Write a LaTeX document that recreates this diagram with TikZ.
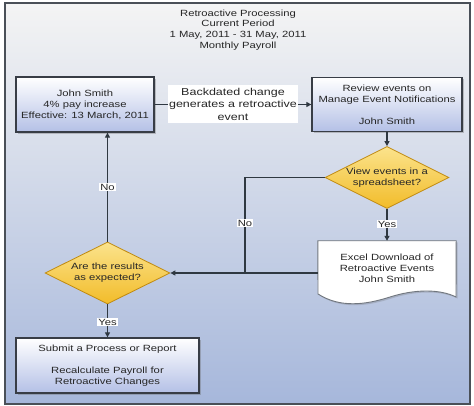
\documentclass[tikz,border=0pt]{standalone}
\usepackage{fontspec}
\setmainfont{Liberation Sans}[FakeStretch=1.25]
\usetikzlibrary{arrows.meta,shapes.geometric,shadows}
\definecolor{framec}{HTML}{4A5058}
\definecolor{bgtop}{HTML}{F4F4F4}
\definecolor{bgmid}{HTML}{CDD5E7}
\definecolor{bgbot}{HTML}{A6B7DB}
\definecolor{boxbot}{HTML}{B4C0E6}
\definecolor{boxline}{HTML}{383D46}
\definecolor{dtop}{HTML}{FBE38C}
\definecolor{dmid}{HTML}{F7CB47}
\definecolor{dbot}{HTML}{F2BC2A}
\definecolor{dline}{HTML}{C08A10}
\definecolor{conn}{HTML}{2F3841}
\definecolor{docline}{HTML}{70767E}
\tikzset{
  txt/.style={font=\fontsize{9}{11}\selectfont, align=center, text=black!85},
  procbox/.style={txt, draw=boxline, line width=1.3pt, top color=white, bottom color=boxbot,
    inner sep=0pt, drop shadow={shadow xshift=2pt, shadow yshift=-2pt, opacity=.35, fill=black!60}},
  decision/.style={txt, shape=diamond, draw=dline, line width=0.8pt, aspect=2, inner sep=0pt,
    top color=dtop, middle color=dmid, bottom color=dbot},
  conline/.style={draw=conn, line width=1.2pt},
  arr/.style={conline, -{Triangle[length=5pt,width=5pt]}},
  tag/.style={txt, fill=white, inner sep=1pt},
}
\begin{document}
\begin{tikzpicture}[x=1pt, y=-1pt]
\useasboundingbox (0,0) rectangle (474,406);
% background frame
\path[draw=framec, line width=1.5pt, top color=bgtop, middle color=bgmid, bottom color=bgbot]
  (5,3) rectangle (470,404);
% title
\node[txt, font=\fontsize{9}{10.7}\selectfont] (title) at (238,30)
  {Retroactive Processing\\Current Period\\1 May, 2011 - 31 May, 2011\\Monthly Payroll};
% boxes
\node[procbox, minimum width=138pt, minimum height=55pt] (b1) at (85,104.5)
  {John Smith\\4\% pay increase\\Effective: 13 March, 2011};
\node[procbox, minimum width=150pt, minimum height=54pt] (b2) at (387,104.5)
  {Review events on\\Manage Event Notifications\\[11pt]John Smith};
\node[decision, minimum width=124pt, minimum height=62pt] (d1) at (387,177.5)
  {View events in a\\spreadsheet?};
\node[minimum width=138pt, minimum height=54pt, inner sep=0pt] (doc) at (387,268) {};
\node[decision, minimum width=125pt, minimum height=62pt] (d2) at (107.5,273)
  {Are the results\\as expected?};
\node[procbox, minimum width=183pt, minimum height=55pt] (b3) at (107.5,365.5)
  {Submit a Process or Report\\[11pt]Recalculate Payroll for\\Retroactive Changes};
% document shape
\path[draw=docline, line width=0.9pt, fill=white,
      drop shadow={shadow xshift=1.5pt, shadow yshift=-1.5pt, opacity=.25, fill=black!60}]
  (doc.north west) -- (doc.north east) -- (456,297)
  .. controls (440,289) and (415,289) .. (390,297)
  .. controls (365,305) and (340,308) .. (318,294) -- cycle;
\node[txt, inner sep=0pt] (doctext) at (doc.center) {Excel Download of\\Retroactive Events\\John Smith};
% connectors
\coordinate (j) at (245,273);
\draw[arr] (b1.east) -- (b2.west);
\node[txt, font=\fontsize{10}{12.5}\selectfont, fill=white, minimum width=130pt, minimum height=38pt, inner sep=0pt]
  (lbl) at (233,104) {Backdated change\\generates a retroactive\\event};
\draw[arr] (b2.south) -- (d1.north);
\draw[arr] (d1.south) -- (doc.north);
\node[tag] (yes1) at (387,224) {Yes};
\draw[conline] (d1.west) -| (j);
\node[tag] (no1) at (245,223) {No};
\draw[arr] (doc.west |- d2.east) -- (d2.east);
\draw[arr] (d2.north) -- (d2.north |- b1.south);
\node[tag] (no2) at (107.5,187) {No};
\draw[arr] (d2.south) -- (b3.north);
\node[tag] (yes2) at (107.5,322) {Yes};
\end{tikzpicture}
\end{document}
